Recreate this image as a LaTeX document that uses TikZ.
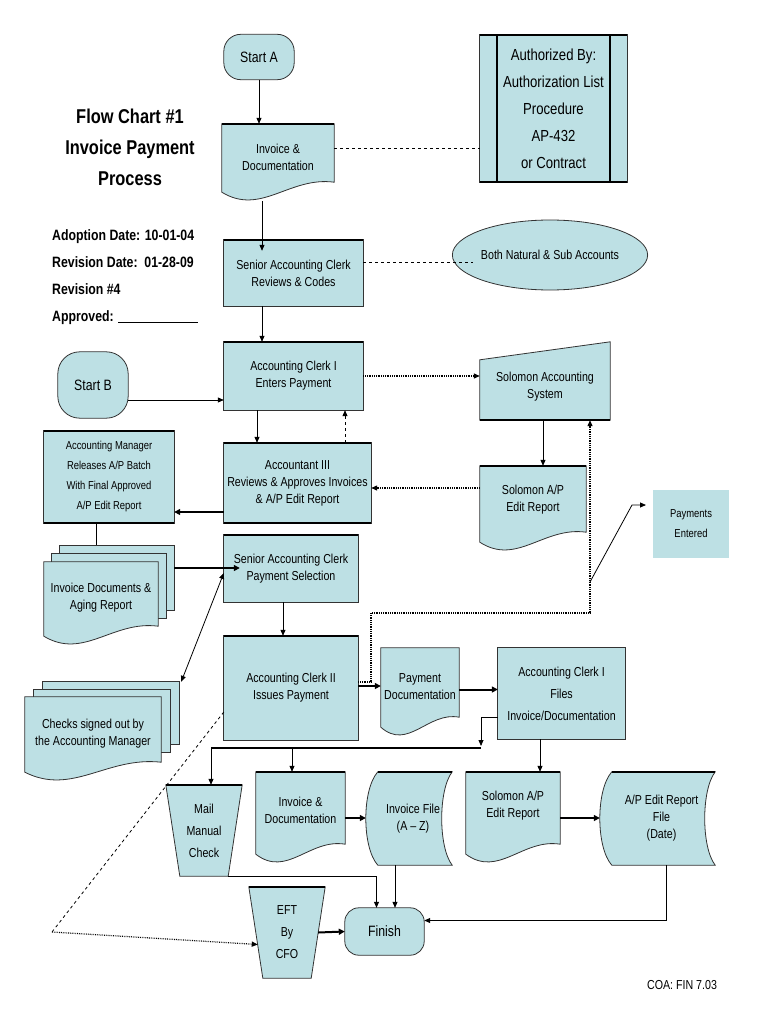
\documentclass[tikz,border=0pt]{standalone}
\usepackage{fontspec}
\setmainfont{Liberation Sans}[FakeStretch=0.82]
\usetikzlibrary{arrows.meta,shapes.geometric,calc}
\definecolor{boxc}{RGB}{189,224,228}
\tikzset{
  every node/.style={font=\fontsize{13}{17}\selectfont, align=center, inner sep=0pt},
  bx/.style={fill=boxc, draw=black!80, line width=0.8pt},
  nd/.style={minimum width=#1},
  ar/.style={-{Triangle[length=6pt,width=5pt]}, line width=0.8pt},
  tar/.style={-{Triangle[length=6pt,width=6pt]}, line width=2pt},
  dot/.style={densely dotted, line width=1.2pt},
}
\newcommand\procbox[1]{\filldraw[bx] (#1.north west) rectangle (#1.south east);
  \draw[line width=2.2pt] (#1.north west) -- (#1.north east);}
\newcommand\docshape[2]{\filldraw[bx] ([yshift=-2pt]#1.south west) -- (#1.north west) -- (#1.north east) -- ([yshift=8pt]#1.south east) .. controls +(-0.4*#2pt,6pt) and +(0.35*#2pt,-24pt) .. ([yshift=-2pt]#1.south west) -- cycle;}
\newcommand\storeshape[1]{\filldraw[bx] ([xshift=12pt]#1.north west) -- (#1.north east) .. controls +(-14pt,-18pt) and +(-14pt,18pt) .. (#1.south east) -- ([xshift=12pt]#1.south west) .. controls +(-16pt,18pt) and +(-16pt,-18pt) .. ([xshift=12pt]#1.north west) -- cycle;
  \draw[line width=2pt] ([xshift=12pt]#1.north west) -- (#1.north east);}
\newcommand\manop[1]{\filldraw[bx] (#1.north west) -- (#1.north east) -- ([xshift=-14pt]#1.south east) -- ([xshift=14pt]#1.south west) -- cycle;
  \draw[line width=2pt] (#1.north west) -- (#1.north east);}
\begin{document}
\begin{tikzpicture}[x=1pt,y=-1pt]
\useasboundingbox (0,0) rectangle (768,1024);
% ---------- nodes ----------
\node[minimum width=70pt,minimum height=45pt] (startA) at (259,57) {};
\filldraw[bx,rounded corners=17pt] (startA.north west) rectangle (startA.south east);
\node at (startA) {\fontsize{15}{18}\selectfont Start A};

\node[minimum width=147pt,minimum height=147pt] (auth) at (553.5,108.5) {};
\filldraw[bx] (auth.north west) rectangle (auth.south east);
\draw[line width=1.5pt] ([xshift=17pt]auth.north west) -- ([xshift=17pt]auth.south west)
  ([xshift=-17pt]auth.north east) -- ([xshift=-17pt]auth.south east);
\draw[line width=2.2pt] (auth.north west) -- (auth.north east) (auth.south west) -- (auth.south east);
\node[font=\fontsize{16}{27}\selectfont] at (auth) {Authorized By:\\Authorization List\\Procedure\\AP-432\\or Contract};

\node[font=\bfseries\fontsize{20}{31}\selectfont] (title) at (130,147) {Flow Chart \#1\\Invoice Payment\\Process};
\node[font=\bfseries\fontsize{15}{27}\selectfont, align=left, anchor=north west] (dates) at (52,229)
 {Adoption Date: 10-01-04\\Revision Date:\ \ 01-28-09\\Revision \#4\\Approved: \underline{\hspace{80pt}}};

\node[minimum width=112pt,minimum height=66pt] (inv1) at (278,157) {};
\docshape{inv1}{112}
\draw[line width=2pt] (inv1.north west) -- (inv1.north east);
\node at (inv1) {Invoice \&\\Documentation};

\node[minimum width=139pt,minimum height=66pt] (senr) at (293.5,273) {};
\procbox{senr}
\node at (senr) {Senior Accounting Clerk\\Reviews \& Codes};

\node[ellipse,bx,minimum width=155pt,minimum height=70pt] (both) at (550,255) {Both Natural \& Sub Accounts};

\node[minimum width=139pt,minimum height=68pt] (clk1) at (293.5,376) {};
\procbox{clk1}
\node at (clk1) {Accounting Clerk I\\Enters Payment};

\node[minimum width=70pt,minimum height=66pt] (startB) at (93,385) {};
\filldraw[bx,rounded corners=22pt] (startB.north west) rectangle (startB.south east);
\node at (startB) {\fontsize{15}{18}\selectfont Start B};

\node[minimum width=130pt,minimum height=78pt] (sas) at (545,381) {};
\filldraw[bx] (sas.south west) -- ([yshift=-18pt]sas.north west) -- (sas.north east) -- (sas.south east) -- cycle;
\draw[line width=2pt] (sas.south west) -- (sas.south east);
\node at ([yshift=-6pt]sas) {Solomon Accounting\\System};

\node[minimum width=147pt,minimum height=80pt] (acc3) at (297.5,483) {};
\procbox{acc3}
\draw[line width=2.2pt] (acc3.south west) -- (acc3.south east);
\node at (acc3) {Accountant III\\Reviews \& Approves Invoices\\\& A/P Edit Report};

\node[minimum width=130pt,minimum height=92pt] (mgr) at (109,477) {};
\procbox{mgr}
\draw[line width=2.2pt] (mgr.south west) -- (mgr.south east);
\node[font=\fontsize{11.5}{20}\selectfont] at (mgr) {Accounting Manager\\Releases A/P Batch\\With Final Approved\\A/P Edit Report};

\node[minimum width=106pt,minimum height=74pt] (sap1) at (533,503) {};
\docshape{sap1}{106}
\draw[line width=2pt] (sap1.north west) -- (sap1.north east);
\node at ([yshift=3pt]sap1) {Solomon A/P\\Edit Report};

\node[minimum width=76pt,minimum height=68pt, fill=boxc, font=\fontsize{11.5}{20}\selectfont] (pent) at (691,524) {Payments\\Entered};

\node[minimum width=134pt,minimum height=67pt] (psel) at (291,568.5) {};
\procbox{psel}
\node at (psel) {Senior Accounting Clerk\\Payment Selection};

% multi-document: invoice documents
\node[minimum width=114pt,minimum height=72pt] (idoc) at (101,598) {};
\filldraw[bx] ([xshift=16pt,yshift=16pt]idoc.north west) rectangle ([xshift=16pt,yshift=24pt]idoc.south east);
\filldraw[bx] ([xshift=8pt,yshift=8pt]idoc.north west) rectangle ([xshift=8pt,yshift=16pt]idoc.south east);
\docshape{idoc}{114}
\node at (idoc) {Invoice Documents \&\\Aging Report};

\node[minimum width=134pt,minimum height=104pt] (clk2) at (291,688) {};
\procbox{clk2}
\node at (clk2) {Accounting Clerk II\\Issues Payment};

\node[minimum width=78pt,minimum height=77pt] (pdoc) at (420,686.5) {};
\docshape{pdoc}{78}
\node at (pdoc) {Payment\\Documentation};

\node[minimum width=127pt,minimum height=91pt] (clkf) at (561.5,693.5) {};
\filldraw[bx] (clkf.north west) rectangle (clkf.south east);
\node[font=\fontsize{13}{22}\selectfont] at (clkf) {Accounting Clerk I\\Files\\Invoice/Documentation};

% multi-document: checks
\node[minimum width=136pt,minimum height=73pt] (chk) at (93,733.5) {};
\filldraw[bx] ([xshift=18pt,yshift=15pt]chk.north west) rectangle ([xshift=18pt,yshift=26pt]chk.south east);
\filldraw[bx] ([xshift=9pt,yshift=7pt]chk.north west) rectangle ([xshift=9pt,yshift=18pt]chk.south east);
\docshape{chk}{136}
\node at (chk) {Checks signed out by\\the Accounting Manager};

\node[minimum width=76pt,minimum height=91pt] (mail) at (204,830.5) {};
\manop{mail}
\node[font=\fontsize{13}{22}\selectfont] at (mail) {Mail\\Manual\\Check};

\node[minimum width=89pt,minimum height=80pt] (inv2) at (300.5,812) {};
\docshape{inv2}{89}
\draw[line width=2pt] (inv2.north west) -- (inv2.north east);
\node at ([yshift=2pt]inv2) {Invoice \&\\Documentation};

\node[minimum width=86pt,minimum height=93pt] (ifile) at (409,818.5) {};
\storeshape{ifile}
\node at ([xshift=4pt]ifile) {Invoice File\\(A -- Z)};

\node[minimum width=94pt,minimum height=80pt] (sap2) at (513,812) {};
\docshape{sap2}{94}
\draw[line width=2pt] (sap2.north west) -- (sap2.north east);
\node at ([yshift=6pt]sap2) {Solomon A/P\\Edit Report};

\node[minimum width=115pt,minimum height=93pt] (apfile) at (657.5,818.5) {};
\storeshape{apfile}
\node at ([xshift=4pt]apfile) {A/P Edit Report\\File\\(Date)};

\node[minimum width=76pt,minimum height=91pt] (eft) at (287,932.5) {};
\manop{eft}
\node[font=\fontsize{13}{22}\selectfont] at (eft) {EFT\\By\\CFO};

\node[minimum width=79pt,minimum height=47pt] (fin) at (384.5,931.5) {};
\filldraw[bx,rounded corners=14pt] (fin.north west) rectangle (fin.south east);
\node at (fin) {\fontsize{15}{18}\selectfont Finish};

\node[font=\fontsize{13}{16}\selectfont] (coa) at (682,985) {COA: FIN 7.03};

% ---------- connectors ----------
\draw[ar] (startA) -- (startA |- inv1.north);
\draw[dashed,line width=0.8pt] ([yshift=9pt]inv1.east) -- ++(146pt,0pt);
\draw[ar] ([xshift=-16pt,yshift=-11pt]inv1.south) -- ([xshift=-16pt,yshift=-11pt]inv1.south |- senr.north);
\draw[dashed,line width=0.8pt] ([yshift=11pt]senr.east) -- ++(110pt,0pt);
\draw[ar] ([xshift=-31.5pt]senr.south) -- ([xshift=-31.5pt]senr.south |- clk1.north);
\draw[ar] ([yshift=-15pt]startB.east) -- ([yshift=-15pt]startB.east -| clk1.west);
\draw[ar,dot] (clk1.east) -- (clk1.east -| sas.west);
\draw[ar] ([xshift=-36.5pt]clk1.south) -- ([xshift=-36.5pt]clk1.south |- acc3.north);
\draw[ar,dashed] ([xshift=47.5pt]acc3.north) -- ([xshift=47.5pt]acc3.north |- clk1.south);
\draw[ar] ([xshift=-2pt]sas.south) -- ([xshift=-2pt]sas.south |- sap1.north);
\draw[ar,dot] ([yshift=15pt]sap1.west) -- ([yshift=15pt]sap1.west -| acc3.east);
\draw[tar] ([yshift=-29pt]acc3.west) -- ([yshift=-29pt]acc3.west -| mgr.east);
\draw[line width=0.8pt] ([xshift=-13pt]mgr.south) -- ++(0pt,-22pt);
\draw[tar] ([xshift=16pt,yshift=30pt]idoc.east) -- ([xshift=16pt,yshift=30pt]idoc.east -| psel.west);
\draw[ar] ([xshift=-8pt]psel.south) -- ([xshift=-8pt]psel.south |- clk2.north);
\draw[{Triangle[length=6pt,width=5pt]}-{Triangle[length=6pt,width=5pt]},line width=0.8pt] ([xshift=20pt,yshift=15pt]chk.north east) -- ([yshift=-4.5pt]psel.west);
\coordinate (d1) at (371,613);
\draw[ar,dot] ([yshift=6pt]clk2.east) -| (d1) -| ([xshift=45pt]sas.south);
\coordinate (p1) at (590,582);
\coordinate (p2) at (632,505);
\coordinate (p3) at (646,505);
\draw[ar] (p1) -- (p2) -- (p3);
\draw[tar] ([yshift=2pt]clk2.east) -- ([yshift=2pt]clk2.east -| pdoc.west);
\draw[tar] ([yshift=-3pt]pdoc.east) -- ([yshift=-3pt]pdoc.east -| clkf.west);
\coordinate (br) at (481,746);
\coordinate (bl) at (211,748);
\coordinate (bm) at (292,748);
\draw[ar] ([yshift=-24pt]clkf.west) -| (br);
\draw[line width=2.2pt] (br |- bl) -- (bl);
\draw[ar] (bl) -- (bl |- mail.north);
\draw[ar] (bm) -- (bm |- inv2.north);
\draw[ar] ([xshift=-21.5pt]clkf.south) -- ([xshift=-21.5pt]clkf.south |- sap2.north);
\draw[tar] ([yshift=-6pt]inv2.east) -- ([yshift=-6pt]inv2.east -| ifile.west);
\draw[tar] ([yshift=-6pt]sap2.east) -- ([yshift=-6pt]sap2.east -| apfile.west);
\draw[ar] ([xshift=-14pt]mail.south east) -| ([xshift=-8pt]fin.north);
\draw[ar] ([xshift=-14pt]ifile.south) -- ([xshift=-14pt]ifile.south |- fin.north);
\draw[ar] ([xshift=8.5pt]apfile.south) |- ([yshift=11pt]fin.east);
\draw[tar] ([xshift=-7pt]eft.east) -- (fin.west);
\coordinate (q) at (52,932);
\draw[dashed,line width=0.8pt] ([yshift=-24pt]clk2.west) -- (q);
\draw[ar,dot] (q) -- ([xshift=9pt,yshift=-12pt]eft.west);
\end{tikzpicture}
\end{document}
